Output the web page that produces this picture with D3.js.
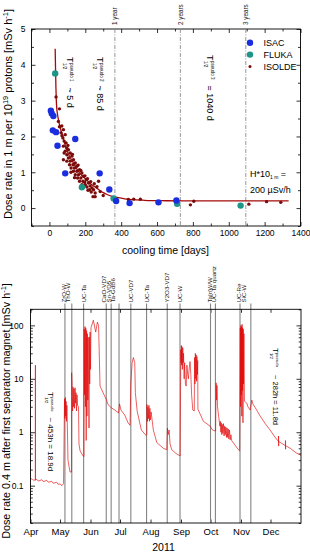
<!DOCTYPE html>
<html><head><meta charset="utf-8">
<script src="https://cdn.jsdelivr.net/npm/d3@7/dist/d3.min.js"></script>
<style>
body{margin:0;background:#fff}
svg{display:block;font-family:"Liberation Sans",Arial,Helvetica,sans-serif}
</style></head>
<body><svg id="c" width="310" height="554"></svg>
<script>
// ---------------- DATA (top panel) ----------------
const isacDays = [8,13,22,19,37,45,144,88,280,334,372,447,608,708];
const isacDose = [2.72,2.64,2.57,2.17,2.12,1.74,1.93,0.97,0.97,0.52,0.2,0.14,0.16,0.21];
const flukaDays = [32,181,358,712,1066];
const flukaDose = [3.76,0.58,0.27,0.12,0.07];
const isoldeDays = [37,56,50,56,69,78,65,88,75,82,93,70,78,97,88,106,82,97,116,78,106,125,97,116,134,112,131,144,121,140,153,134,153,168,144,162,181,157,175,190,168,187,205,181,200,218,209,227,237,224,246,243,274,265,255,283,196,212,230,160,128,103,120,185,215,250,140,175,198,233,255,300,440,470,507,786,805,1112,1211,1290];
const isoldeDose = [3.1,2.77,2.42,2.27,2.29,2.19,2.1,2.05,1.96,1.87,1.82,2.02,1.73,1.68,1.59,1.63,1.54,1.49,1.54,1.35,1.4,1.45,1.31,1.31,1.35,1.21,1.21,1.26,1.12,1.12,1.17,1.03,1.03,1.07,0.93,0.93,0.98,0.84,0.84,0.89,0.75,0.75,0.79,0.65,0.65,0.7,0.59,0.62,0.56,0.51,0.51,0.32,0.75,0.6,0.42,0.46,0.72,0.82,0.74,1.2,1.5,1.75,1.0,0.55,0.5,0.68,0.85,1.05,0.9,0.45,0.32,0.35,0.24,0.25,0.25,0.09,0.19,0.11,0.18,0.16];
const fitDays = [32,34,36,38,41,45,50,60,70,78,90,100,115,134,150,170,190,209,230,250,274,300,321,350,377,420,468,520,563,650,800,1000,1200,1334];
const fitDose = [4.45,3.9,3.4,3.05,2.78,2.62,2.47,2.25,2.07,1.93,1.72,1.58,1.42,1.26,1.12,0.97,0.87,0.78,0.68,0.6,0.52,0.43,0.38,0.33,0.3,0.26,0.235,0.22,0.21,0.205,0.2,0.2,0.2,0.2];
const yearDays = [365,730,1095];
const yearLabels = ["1 year","2 years","3 years"];
const topXTicks = [0,200,400,600,800,1000,1200,1400];
const topYTicks = [0,1,2,3,4,5];
const legendNames = ["ISAC","FLUKA","ISOLDE"];

// ---------------- DATA (bottom panel) ----------------
const tDays = [0,1.5,3,4.9,5.0,5.1,6.5,8,9.7,11.5,13,14.8,16.5,18,19.8,21.5,23,24.9,26.5,28,30,32,33.6,34.6,35.0,35.4,35.8,36.2,36.6,37.0,37.4,38.1,40.2,41.7,41.8,42.3,42.8,43.3,43.8,44.3,44.8,45.3,45.8,46.3,46.8,47.3,47.8,48.8,49.3,50.4,53.4,54.4,54.6,55.0,55.4,55.8,56.2,56.6,57.0,57.4,57.8,58.2,58.6,59.5,59.8,60.2,60.6,61.0,61.5,63.9,66.3,68.0,69.2,70.7,75.5,77.1,78.8,81.9,85.7,89.5,90.5,92.0,95.8,99.2,101.2,102.0,103.3,104.6,106.0,106.6,108.4,112.7,117.5,118.2,118.4,118.9,119.4,119.9,120.4,120.9,121.4,121.9,122.6,124.9,128.4,135.1,138.6,139.2,139.9,140.9,141.9,143.6,148,152.1,152.8,153.1,153.4,153.7,154.0,154.4,154.8,155.2,155.6,156.2,156.7,157.5,158.3,159.0,159.8,160.5,161.4,162.2,163.0,163.8,165.0,166.5,166.8,167.2,167.6,168.0,168.4,168.8,169.2,169.6,170.0,170.2,175.8,182.6,185.0,188.2,188.7,189.2,189.6,190.1,191.3,192.5,193.0,193.5,194.0,194.5,195.0,195.6,196.2,196.8,197.4,198.0,198.6,199.2,199.8,200.4,201.0,201.6,202.3,203.0,203.8,204.5,211.4,212.6,213.3,213.6,213.9,214.2,214.5,214.8,215.1,215.4,215.7,216.0,216.3,216.6,217.0,217.5,219.9,221,223.3,225,226,228.4,233.5,238.6,243.6,247.7,252.1,252.2,252.3,252.4,259.1,259.2,259.3,259.4,264.1,270.1,275];
const doseRate = [0.13,0.135,0.126,0.128,18,0.127,0.131,0.122,0.125,0.129,0.119,0.122,0.126,0.116,0.118,0.121,0.111,0.113,0.116,0.106,0.108,0.1,0.11,4.2,1.8,4.5,2.0,3.8,1.6,3.2,1.5,0.3,0.18,0.18,13,7.5,2.5,7.0,3.0,6.5,2.8,6.8,3.5,5.5,2.5,5.0,3.2,3.0,0.6,0.45,0.36,0.35,85,5,95,3,90,0.7,80,2,70,4,60,1.2,60,8,75,15,90,125,75,115,100,7.3,4.7,4.1,3.3,2.9,2.6,2.3,3.4,2.6,2.1,1.5,1.35,8,20,25,20,5.5,2.5,1.1,0.87,0.9,3.3,1.6,3.0,1.8,3.2,1.6,2.8,1.7,2.4,1.1,0.64,0.5,0.47,1.2,0.9,1.1,0.6,0.47,0.4,0.36,35,20,42,18,40,15,38,20,30,10,20,8,7.3,18,12,10,16,21,12,5,2.6,2.5,25,8,30,10,28,9,26,12,22,2.7,1.6,1.3,1.1,1.05,8.4,4,7.5,3,2.0,1.3,1.6,1.0,1.5,0.9,1.4,0.95,1.45,0.85,1.3,0.9,1.25,0.8,1.2,0.8,1.15,0.75,1.1,0.72,0.9,0.7,0.47,0.45,90,3,100,5,95,2,105,6,90,1.5,85,8,70,3.8,3.5,3.0,2.6,4.0,3.4,2.9,2.0,1.45,1.1,0.85,0.67,0.85,0.55,0.67,0.56,0.7,0.48,0.56,0.5,0.41,0.37];
const targetDates = ["2011-05-06","2011-05-13","2011-05-25","2011-06-17","2011-06-22","2011-06-30","2011-07-12","2011-07-28","2011-08-18","2011-08-31","2011-10-01","2011-10-06","2011-10-31","2011-11-11"];
const targetNames = ["ZrO-W","ThO-W","UC-Ta","CaO-VD7","Sn-VD5","Ta-GdB6","UC-VD7","UC-Ta","Y2O3-VD7","UC-W","TaIr/W/W","UC-Ta quartz","UC-Re","SiC-W"];
const botYTicks = [0.1,1,10,100];

// ---------------- DRAW ----------------
const svg = d3.select("#c");
const BLACK = "#000";

// ===== top panel =====
const T = {l:31.5, r:300.5, t:29, b:226};
const x1 = d3.scaleLinear().domain([-100,1400]).range([T.l,T.r]);
const y1 = d3.scaleLinear().domain([-0.5,5]).range([T.b,T.t]);
const g1 = svg.append("g");

function styleAxis(sel, fs){
  sel.select(".domain").remove();
  sel.selectAll(".tick line").attr("stroke",BLACK).attr("stroke-width",0.8);
  sel.selectAll(".tick text").attr("font-size",fs).attr("font-family",null).attr("fill",BLACK);
}
const topMinorX = d3.range(-100,1401,100).filter(v=>!topXTicks.includes(v));
const topMinorY = d3.range(-0.5,5.01,0.5).filter(v=>!topYTicks.includes(v));
const intFmt = d3.format("d");

g1.append("g").attr("transform",`translate(0,${T.b})`)
  .call(d3.axisBottom(x1).tickValues(topXTicks).tickSize(-4).tickPadding(4).tickFormat(intFmt)).call(s=>styleAxis(s,8.5));
g1.append("g").attr("transform",`translate(0,${T.b})`)
  .call(d3.axisBottom(x1).tickValues(topMinorX).tickSize(-2.5).tickFormat("")).call(s=>styleAxis(s,8));
g1.append("g").attr("transform",`translate(0,${T.t})`)
  .call(d3.axisTop(x1).tickValues(topXTicks).tickSize(-4).tickFormat("")).call(s=>styleAxis(s,8));
g1.append("g").attr("transform",`translate(0,${T.t})`)
  .call(d3.axisTop(x1).tickValues(topMinorX).tickSize(-2.5).tickFormat("")).call(s=>styleAxis(s,8));
g1.append("g").attr("transform",`translate(${T.l},0)`)
  .call(d3.axisLeft(y1).tickValues(topYTicks).tickSize(-4).tickPadding(6).tickFormat(intFmt)).call(s=>styleAxis(s,8.5));
g1.append("g").attr("transform",`translate(${T.l},0)`)
  .call(d3.axisLeft(y1).tickValues(topMinorY).tickSize(-2.5).tickFormat("")).call(s=>styleAxis(s,8));
g1.append("g").attr("transform",`translate(${T.r},0)`)
  .call(d3.axisRight(y1).tickValues(topYTicks).tickSize(-4).tickFormat("")).call(s=>styleAxis(s,8));
g1.append("g").attr("transform",`translate(${T.r},0)`)
  .call(d3.axisRight(y1).tickValues(topMinorY).tickSize(-2.5).tickFormat("")).call(s=>styleAxis(s,8));
g1.append("rect").attr("x",T.l).attr("y",T.t).attr("width",T.r-T.l).attr("height",T.b-T.t)
  .attr("fill","none").attr("stroke",BLACK).attr("stroke-width",0.9);

// year lines
yearDays.forEach((d,i)=>{
  g1.append("line").attr("x1",x1(d)).attr("x2",x1(d)).attr("y1",T.t).attr("y2",T.b)
    .attr("stroke","#8a8a8a").attr("stroke-width",0.9).attr("stroke-dasharray","4,1.5,1,1.5");
  g1.append("text").attr("transform",`translate(${x1(d)},25) rotate(-90)`)
    .attr("dy","0.35em").attr("font-size",6.3).attr("fill","#222").text(yearLabels[i]);
});

// fit curve
const fitPts = fitDays.map((d,i)=>[d,fitDose[i]]);
g1.append("path").datum(fitPts)
  .attr("d",d3.line().x(d=>x1(d[0])).y(d=>y1(d[1])).curve(d3.curveMonotoneX))
  .attr("fill","none").attr("stroke","#a50a0a").attr("stroke-width",1.3);

// points
const COL_ISAC="#1a2ee0", COL_FLUKA="#1f9488", COL_ISOLDE="#7a0b0b";
g1.append("g").selectAll("circle").data(isoldeDays.map((d,i)=>[d,isoldeDose[i]])).join("circle")
  .attr("cx",d=>x1(d[0])).attr("cy",d=>y1(d[1])).attr("r",1.7).attr("fill",COL_ISOLDE);
g1.append("g").selectAll("circle").data(flukaDays.map((d,i)=>[d,flukaDose[i]])).join("circle")
  .attr("cx",d=>x1(d[0])).attr("cy",d=>y1(d[1])).attr("r",3.2).attr("fill",COL_FLUKA);
g1.append("g").selectAll("circle").data(isacDays.map((d,i)=>[d,isacDose[i]])).join("circle")
  .attr("cx",d=>x1(d[0])).attr("cy",d=>y1(d[1])).attr("r",3.2).attr("fill",COL_ISAC);

// legend
const legCols=[COL_ISAC,COL_FLUKA,COL_ISOLDE], legR=[3.2,3.2,1.5];
legendNames.forEach((n,i)=>{
  const yy = 42.8 + i*11.8;
  g1.append("circle").attr("cx",250).attr("cy",yy).attr("r",legR[i]).attr("fill",legCols[i]);
  g1.append("text").attr("x",263.5).attr("y",yy+3.3).attr("font-size",9).text(n);
});

// H*10 text
const ht = g1.append("text").attr("x",250).attr("y",177).attr("font-size",9);
ht.append("tspan").text("H*10");
ht.append("tspan").attr("dy",2).attr("font-size",5).text("1 m");
ht.append("tspan").attr("dy",-2).text(" =");
g1.append("text").attr("x",250).attr("y",193).attr("font-size",9).text("200 \u00b5Sv/h");

// pseudo half-life annotations
function pseudo(g,x0,y0,supTxt,rest,fs,ss,gap){
  const grp = g.append("g").attr("transform",`translate(${x0},${y0}) rotate(90)`);
  const t = grp.append("text").attr("font-size",fs).text("T");
  const tw = t.node().getComputedTextLength();
  const sp = grp.append("text").attr("x",tw+0.4).attr("y",-fs*0.42).attr("font-size",ss).text(supTxt);
  grp.append("text").attr("x",tw+0.4).attr("y",fs*0.34).attr("font-size",ss).text("1/2");
  const sw = sp.node().getComputedTextLength();
  grp.append("text").attr("x",tw+0.4+sw+gap).attr("font-size",fs).text(rest);
}
pseudo(g1,66.5,57,"pseudo 1","~ 5 d",9,4.5,6);
pseudo(g1,96.5,57,"pseudo 2","~ 85 d",9,4.5,4);
pseudo(g1,207,55,"pseudo 3","= 1040 d",9,4.5,6);

// axis titles
g1.append("text").attr("x",165.5).attr("y",254).attr("text-anchor","middle").attr("font-size",10.5).text("cooling time [days]");
const yl1 = g1.append("text").attr("transform","translate(11.5,114) rotate(-90)").attr("text-anchor","middle").attr("font-size",11);
yl1.append("tspan").text("Dose rate in 1 m per 10");
yl1.append("tspan").attr("dy",-4).attr("font-size",7.5).text("19");
yl1.append("tspan").attr("dy",4).text(" protons [mSv h");
yl1.append("tspan").attr("dy",-4).attr("font-size",7.5).text("-1");
yl1.append("tspan").attr("dy",4).text("]");

// ===== bottom panel =====
const B = {l:30.5, r:301, t:309.3, b:523};
const x2 = d3.scaleUtc().domain([new Date(Date.UTC(2011,3,1)), new Date(Date.UTC(2012,0,1))]).range([B.l,B.r]);
const y2 = d3.scaleLog().domain([0.02,200]).range([B.b,B.t]);
const g2 = svg.append("g");
const dayMs = 86400000, t0 = Date.UTC(2011,3,1);
const toDate = d => new Date(t0 + d*dayMs);

const months = d3.utcMonth.range(new Date(Date.UTC(2011,3,1)), new Date(Date.UTC(2012,0,1)));
const minorLog = [];
[0.01,0.1,1,10,100].forEach(dec=>{ for(let k=2;k<=9;k++){ const v=k*dec; if(v>=0.02&&v<=200) minorLog.push(v);} });

g2.append("g").attr("transform",`translate(0,${B.b})`)
  .call(d3.axisBottom(x2).tickValues(months).tickSize(-3.5).tickPadding(5).tickFormat(d3.utcFormat("%b"))).call(s=>styleAxis(s,9.5));
g2.append("g").attr("transform",`translate(0,${B.t})`)
  .call(d3.axisTop(x2).tickValues(months).tickSize(-3.5).tickFormat("")).call(s=>styleAxis(s,8));
const fmtLog = v => v<1 ? String(v) : d3.format("d")(v);
g2.append("g").attr("transform",`translate(${B.l},0)`)
  .call(d3.axisLeft(y2).tickValues(botYTicks).tickSize(-4.5).tickPadding(7).tickFormat(fmtLog)).call(s=>styleAxis(s,8.5));
g2.append("g").attr("transform",`translate(${B.l},0)`)
  .call(d3.axisLeft(y2).tickValues(minorLog).tickSize(-2.3).tickFormat("")).call(s=>styleAxis(s,8));
g2.append("g").attr("transform",`translate(${B.r},0)`)
  .call(d3.axisRight(y2).tickValues(botYTicks).tickSize(-4.5).tickFormat("")).call(s=>styleAxis(s,8));
g2.append("g").attr("transform",`translate(${B.r},0)`)
  .call(d3.axisRight(y2).tickValues(minorLog).tickSize(-2.3).tickFormat("")).call(s=>styleAxis(s,8));

// target change lines
const parseD = d3.utcParse("%Y-%m-%d");
const tx = targetDates.map(s=>x2(parseD(s)));
tx.forEach(x=>{
  g2.append("line").attr("x1",x).attr("x2",x).attr("y1",303.5).attr("y2",B.b)
    .attr("stroke","#858585").attr("stroke-width",1.1);
});
// label placement: pack close labels
const GAP=4.5, TH=11;
const lx = tx.slice();
let i=0;
while(i<tx.length){
  let j=i;
  while(j+1<tx.length && tx[j+1]-tx[j]<TH) j++;
  const n=j-i+1;
  if(n>1){
    const start = tx[i] - (n-1)*GAP/4;
    for(let k=0;k<n;k++) lx[i+k]=start+k*GAP;
  }
  i=j+1;
}
targetNames.forEach((n,k)=>{
  g2.append("text").attr("transform",`translate(${lx[k]},302.5) rotate(-90)`)
    .attr("dy","0.35em").attr("font-size",6.2).attr("fill","#222").text(n);
});

// dose-rate trace (drawn segment by segment so dense parts darken)
const pts = tDays.map((d,k)=>[toDate(d),doseRate[k]]);
const seg = d3.line().x(d=>x2(d[0])).y(d=>y2(d[1]));
g2.append("g").selectAll("path").data(d3.pairs(pts)).join("path")
  .attr("d",d=>seg(d)).attr("fill","none").attr("stroke","#e00000")
  .attr("stroke-opacity",0.62).attr("stroke-width",1);

g2.append("rect").attr("x",B.l).attr("y",B.t).attr("width",B.r-B.l).attr("height",B.b-B.t)
  .attr("fill","none").attr("stroke",BLACK).attr("stroke-width",0.9);

pseudo(g2,47.5,392,"pseudo","~ 453h = 18.9d",8,4.3,6);
pseudo(g2,273,348,"pseudo","~ 282h = 11.8d",7.5,4.3,8);

g2.append("text").attr("x",163.5).attr("y",551).attr("text-anchor","middle").attr("font-size",10.5).text("2011");
const yl2 = g2.append("text").attr("transform","translate(10,411) rotate(-90)").attr("text-anchor","middle").attr("font-size",10.8);
yl2.append("tspan").text("Dose rate 0.4 m after first separator magnet [mSv h");
yl2.append("tspan").attr("dy",-4).attr("font-size",7.5).text("-1");
yl2.append("tspan").attr("dy",4).text("]");
</script>
</body></html>
